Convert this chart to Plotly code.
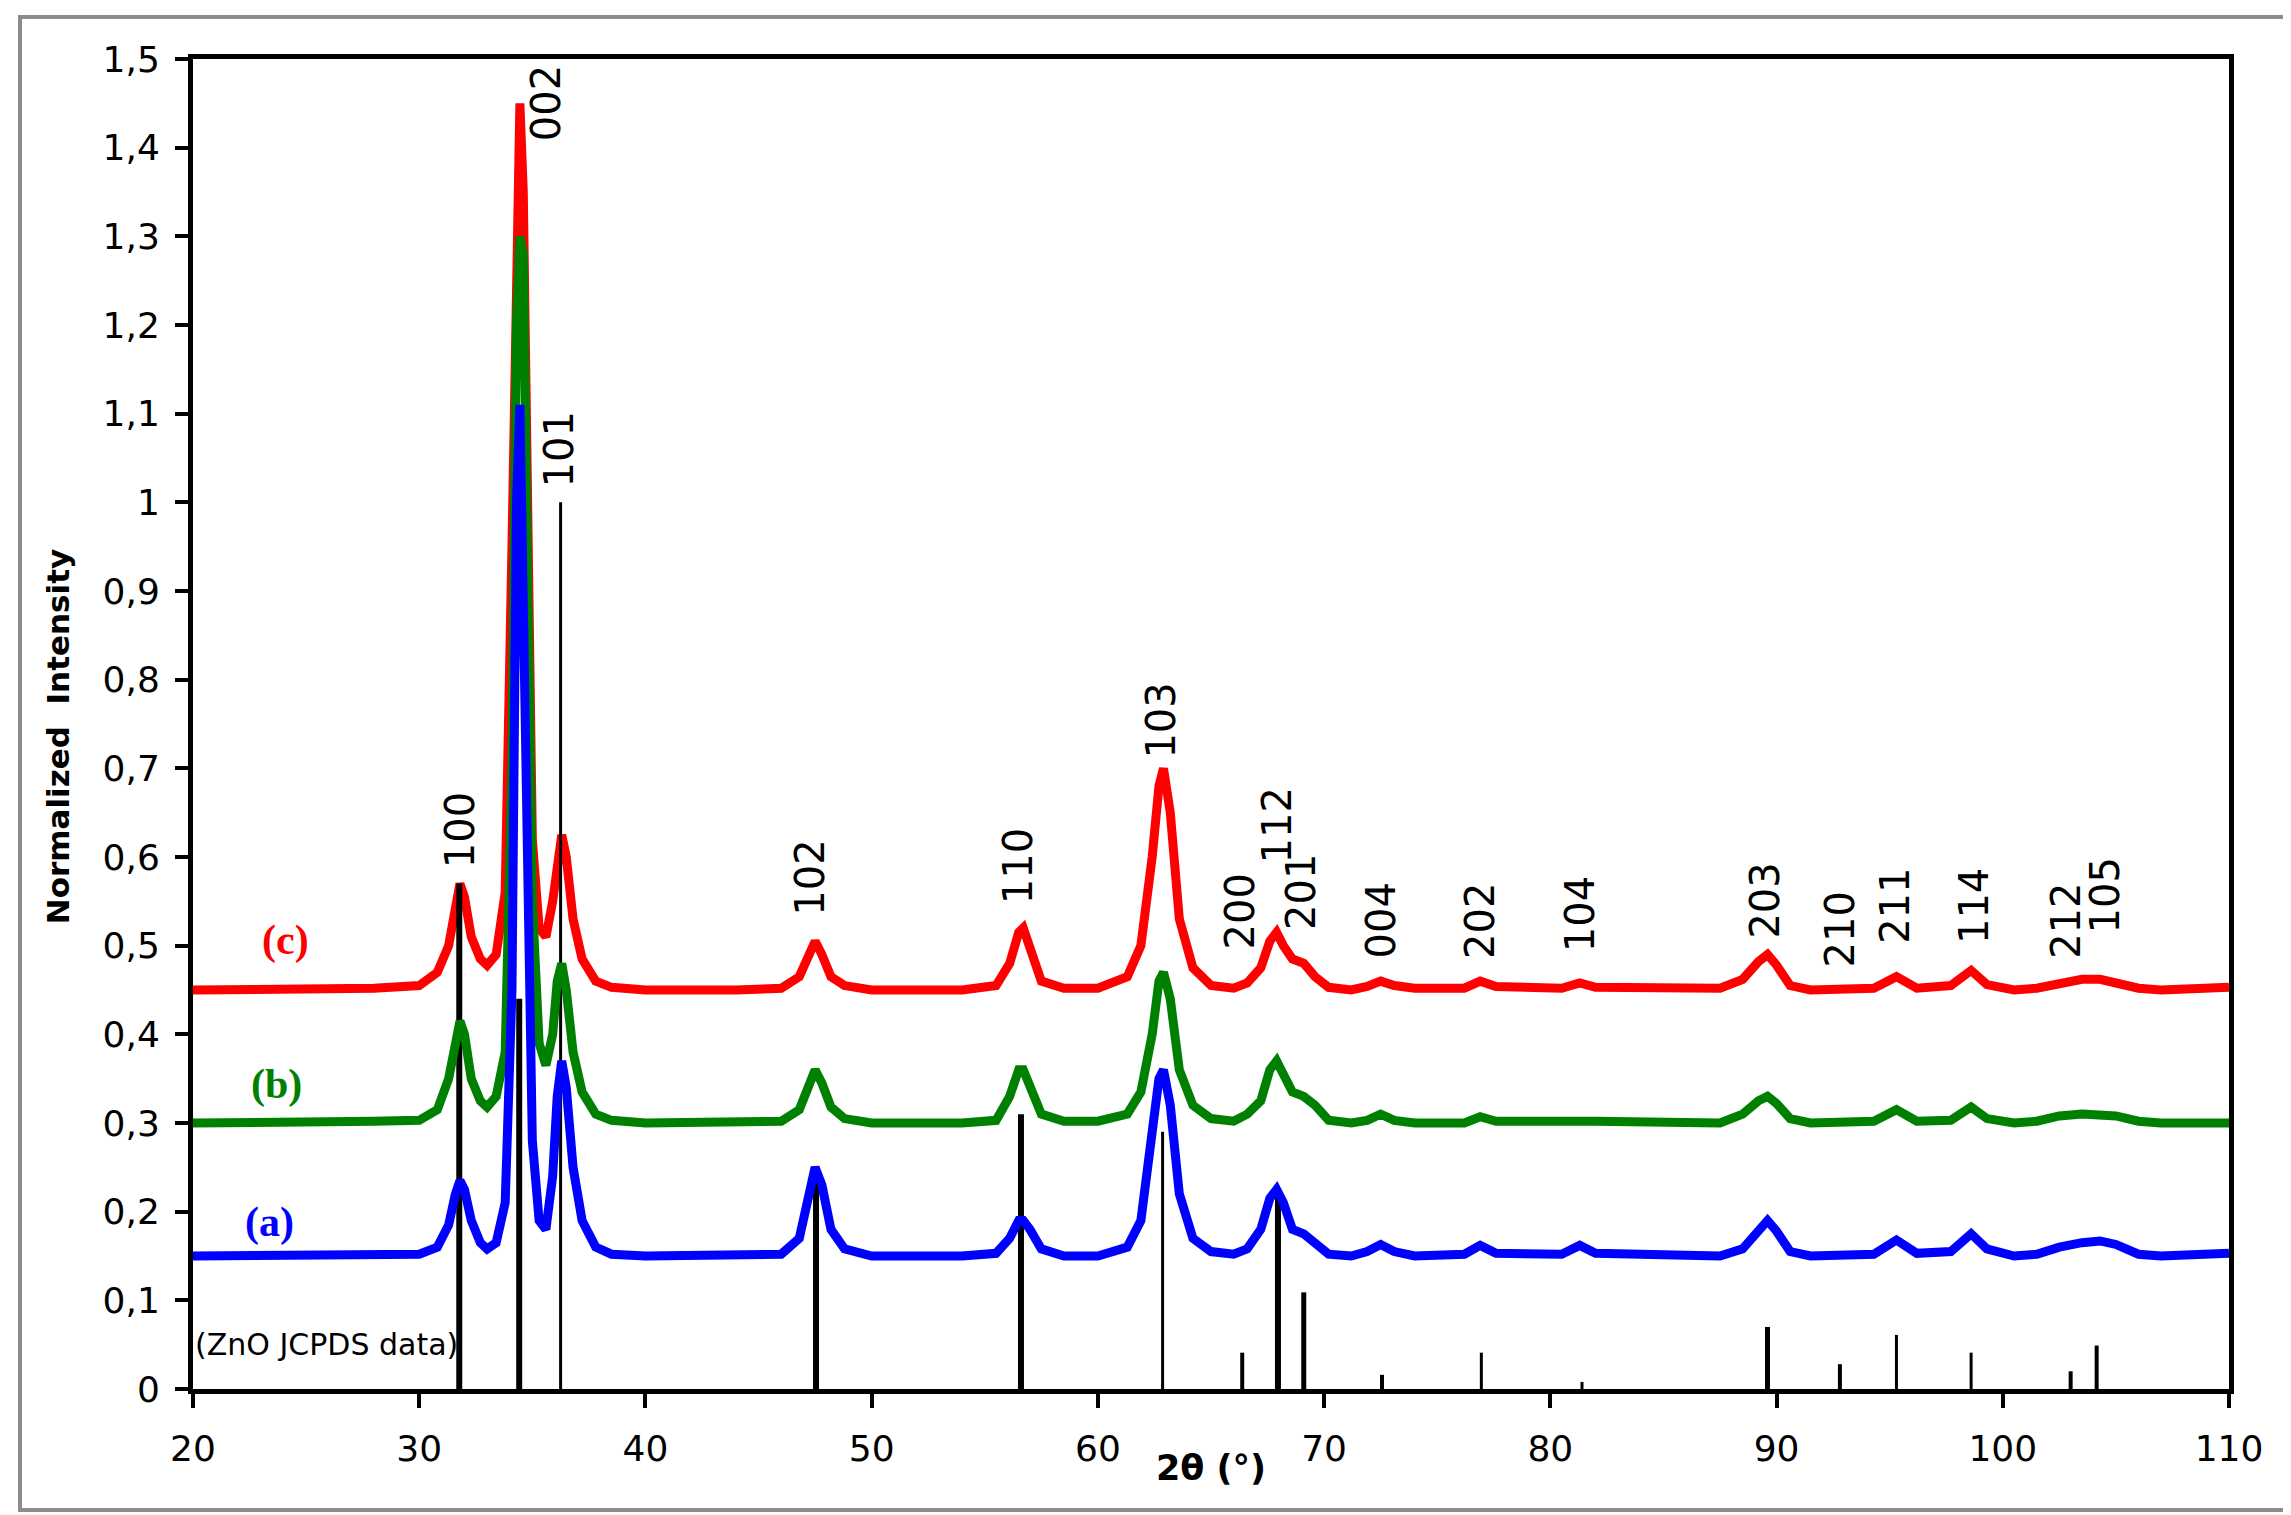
import plotly.graph_objects as go

# --- data ---
two_theta = [20, 24, 28, 30, 30.8, 31.3, 31.6, 31.8, 32.0, 32.3, 32.7, 33.0, 33.4, 33.8,
             34.1, 34.3, 34.45, 34.6, 34.8, 35.0, 35.3, 35.6, 35.9, 36.1, 36.3, 36.5,
             36.8, 37.2, 37.8, 38.5, 40, 44, 46, 46.8, 47.2, 47.5, 47.8, 48.2, 48.8,
             50, 54, 55.5, 56.1, 56.5, 56.7, 57.0, 57.5, 58.5, 60, 61.3, 61.9, 62.4,
             62.7, 62.9, 63.2, 63.6, 64.2, 65.0, 66.0, 66.6, 67.2, 67.6, 67.9, 68.2,
             68.6, 69.1, 69.6, 70.2, 71.2, 71.9, 72.5, 73.1, 74, 76.2, 76.9, 77.6,
             80.5, 81.3, 82.0, 87.5, 88.5, 89.2, 89.6, 90.0, 90.6, 91.5, 94.3, 95.3,
             96.2, 97.7, 98.6, 99.3, 100.5, 101.5, 102.5, 103.5, 104.3, 105.0, 106.0,
             107, 110]

int_a = [0.15, 0.15, 0.15, 0.152, 0.16, 0.185, 0.22, 0.235, 0.225, 0.19, 0.165, 0.158, 0.165, 0.21,
         0.45, 1.0, 1.11, 0.9, 0.5, 0.28, 0.19, 0.18, 0.24, 0.33, 0.37, 0.34,
         0.25, 0.19, 0.16, 0.152, 0.15, 0.15, 0.152, 0.17, 0.22, 0.25, 0.23, 0.18, 0.158,
         0.15, 0.15, 0.153, 0.17, 0.19, 0.19, 0.18, 0.158, 0.15, 0.15, 0.16, 0.19, 0.29,
         0.35, 0.36, 0.32, 0.22, 0.17, 0.155, 0.152, 0.158, 0.18, 0.215, 0.225, 0.21,
         0.18, 0.175, 0.165, 0.152, 0.15, 0.155, 0.163, 0.155, 0.15, 0.152, 0.162, 0.153,
         0.152, 0.162, 0.153, 0.15, 0.158, 0.18, 0.19, 0.178, 0.155, 0.15, 0.152, 0.168,
         0.153, 0.155, 0.175, 0.158, 0.15, 0.152, 0.16, 0.165, 0.167, 0.163, 0.152,
         0.15, 0.153]

int_b = [0.30, 0.30, 0.302, 0.303, 0.315, 0.35, 0.395, 0.415, 0.40, 0.35, 0.325, 0.318, 0.33, 0.38,
         0.7, 1.2, 1.30, 1.28, 0.9, 0.55, 0.39, 0.365, 0.40, 0.46, 0.48, 0.45,
         0.38, 0.335, 0.31, 0.303, 0.30, 0.30, 0.302, 0.315, 0.345, 0.36, 0.345, 0.318, 0.305,
         0.30, 0.30, 0.303, 0.33, 0.36, 0.36, 0.34, 0.31, 0.302, 0.302, 0.31, 0.335, 0.40,
         0.46, 0.47, 0.44, 0.36, 0.32, 0.305, 0.302, 0.31, 0.325, 0.36, 0.37, 0.355,
         0.335, 0.33, 0.32, 0.303, 0.30, 0.303, 0.31, 0.303, 0.30, 0.30, 0.307, 0.302,
         0.302, 0.303, 0.302, 0.30, 0.31, 0.325, 0.33, 0.322, 0.305, 0.30, 0.302, 0.315,
         0.302, 0.303, 0.318, 0.305, 0.30, 0.302, 0.308, 0.31, 0.31, 0.308, 0.302,
         0.30, 0.30]

int_c = [0.45, 0.45, 0.452, 0.455, 0.47, 0.50, 0.545, 0.57, 0.555, 0.51, 0.485, 0.478, 0.49, 0.56,
         0.95, 1.3, 1.45, 1.35, 0.87, 0.62, 0.52, 0.51, 0.55, 0.60, 0.625, 0.60,
         0.53, 0.485, 0.46, 0.453, 0.45, 0.45, 0.452, 0.465, 0.49, 0.505, 0.49, 0.465, 0.455,
         0.45, 0.45, 0.455, 0.48, 0.515, 0.52, 0.495, 0.46, 0.452, 0.452, 0.465, 0.50, 0.60,
         0.68, 0.70, 0.65, 0.53, 0.475, 0.455, 0.452, 0.458, 0.475, 0.505, 0.515, 0.50,
         0.485, 0.48, 0.465, 0.453, 0.45, 0.454, 0.46, 0.455, 0.452, 0.452, 0.46, 0.454,
         0.452, 0.458, 0.453, 0.452, 0.462, 0.482, 0.49, 0.478, 0.455, 0.45, 0.452, 0.465,
         0.452, 0.455, 0.472, 0.456, 0.45, 0.452, 0.458, 0.462, 0.462, 0.458, 0.452,
         0.45, 0.453]

# ZnO JCPDS reference lines
jcpds_pos = [31.77, 34.42, 36.25, 47.54, 56.6, 62.86, 66.38, 67.96, 69.1, 72.56,
             76.95, 81.4, 89.6, 92.8, 95.3, 98.6, 103.0, 104.15]
jcpds_int = [0.57, 0.44, 1.0, 0.235, 0.31, 0.29, 0.041, 0.225, 0.109, 0.016,
             0.041, 0.008, 0.07, 0.028, 0.061, 0.041, 0.02, 0.049]
jcpds_w = [6, 6, 3, 6, 6, 3, 4, 6, 5, 4, 3, 3, 5, 4, 3, 3, 4, 4]

hkl = ['100', '002', '101', '102', '110', '103', '200', '112', '201', '004',
       '202', '104', '203', '210', '211', '114', '212', '105']
hkl_x = [31.8, 35.6, 36.2, 47.3, 56.45, 62.8, 66.3, 67.9, 69.0, 72.5,
         76.9, 81.3, 89.5, 92.8, 95.2, 98.7, 102.8, 104.5]
hkl_y = [0.585, 1.405, 1.015, 0.531, 0.544, 0.709, 0.494, 0.59, 0.516, 0.483,
         0.483, 0.49, 0.506, 0.473, 0.5, 0.5, 0.483, 0.511]

W, H = 2291, 1515
ML, MR, MT, MB = 185, 70, 51, 134
PW, PH = W - ML - MR, H - MT - MB

fig = go.Figure()

fig.add_trace(go.Scatter(x=two_theta, y=int_c, mode='lines',
                         line=dict(color='#ff0000', width=9), name='(c)'))

# sticks grouped by line width
for w in sorted(set(jcpds_w)):
    xs, ys = [], []
    for p, v, lw in zip(jcpds_pos, jcpds_int, jcpds_w):
        if lw == w:
            xs += [p, p, None]
            ys += [0, v, None]
    fig.add_trace(go.Scatter(x=xs, y=ys, mode='lines',
                             line=dict(color='black', width=w), name='JCPDS'))

fig.add_trace(go.Scatter(x=two_theta, y=int_b, mode='lines',
                         line=dict(color='#008000', width=9), name='(b)'))
fig.add_trace(go.Scatter(x=two_theta, y=int_a, mode='lines',
                         line=dict(color='#0000ff', width=9), name='(a)'))

ann = []
for t, xx, yy in zip(hkl, hkl_x, hkl_y):
    ann.append(dict(x=xx, y=yy, text=t, textangle=-90, showarrow=False,
                    xanchor='center', yanchor='bottom',
                    font=dict(family='DejaVu Sans', size=40, color='black')))

ann.append(dict(x=24.1, y=0.506, text='<b>(c)</b>', showarrow=False,
                font=dict(family='Liberation Serif', size=42, color='#ff0000')))
ann.append(dict(x=23.7, y=0.343, text='<b>(b)</b>', showarrow=False,
                font=dict(family='Liberation Serif', size=42, color='#008000')))
ann.append(dict(x=23.4, y=0.188, text='<b>(a)</b>', showarrow=False,
                font=dict(family='Liberation Serif', size=42, color='#0000ff')))
ann.append(dict(x=20.02, y=0.05, text='(ZnO JCPDS data)', showarrow=False,
                xanchor='left', font=dict(family='DejaVu Sans', size=30, color='black')))

# axis titles
ann.append(dict(xref='paper', yref='paper', x=(30 - ML) / PW, y=0.49,
                text='<b>Normalized  Intensity</b>', textangle=-90, showarrow=False,
                font=dict(family='DejaVu Sans', size=31, color='black')))
ann.append(dict(xref='paper', yref='paper', x=0.5, y=-(1482 - MT - PH) / PH,
                text='<b>2θ (°)</b>', showarrow=False,
                font=dict(family='DejaVu Sans', size=35, color='black')))

yt = [i / 10 for i in range(16)]
ytext = ['0' if v == 0 else ('1' if v == 1 else ('%.1f' % v).replace('.', ',')) for v in yt]

fig.update_layout(
    width=W, height=H,
    margin=dict(l=ML, r=MR, t=MT, b=MB),
    paper_bgcolor='white', plot_bgcolor='white',
    showlegend=False,
    annotations=ann,
    shapes=[dict(type='rect', xref='paper', yref='paper',
                 x0=(12 - ML) / PW, x1=(2282 - ML) / PW,
                 y0=1 - (1502 - MT) / PH, y1=1 - (9 - MT) / PH,
                 line=dict(color='#8c8c8c', width=4), layer='below')],
    xaxis=dict(range=[20, 110], tickvals=list(range(20, 111, 10)),
               showgrid=False, zeroline=False,
               showline=True, linecolor='black', linewidth=5, mirror=True,
               ticks='outside', ticklen=14, tickwidth=4, tickcolor='black',
               ticklabelstandoff=10,
               tickfont=dict(family='DejaVu Sans', size=36, color='black')),
    yaxis=dict(range=[0, 1.5], tickvals=yt, ticktext=ytext,
               showgrid=False, zeroline=False,
               showline=True, linecolor='black', linewidth=5, mirror=True,
               ticks='outside', ticklen=13, tickwidth=4, tickcolor='black',
               ticklabelstandoff=8,
               tickfont=dict(family='DejaVu Sans', size=36, color='black')),
)

fig.write_html('out.html')
